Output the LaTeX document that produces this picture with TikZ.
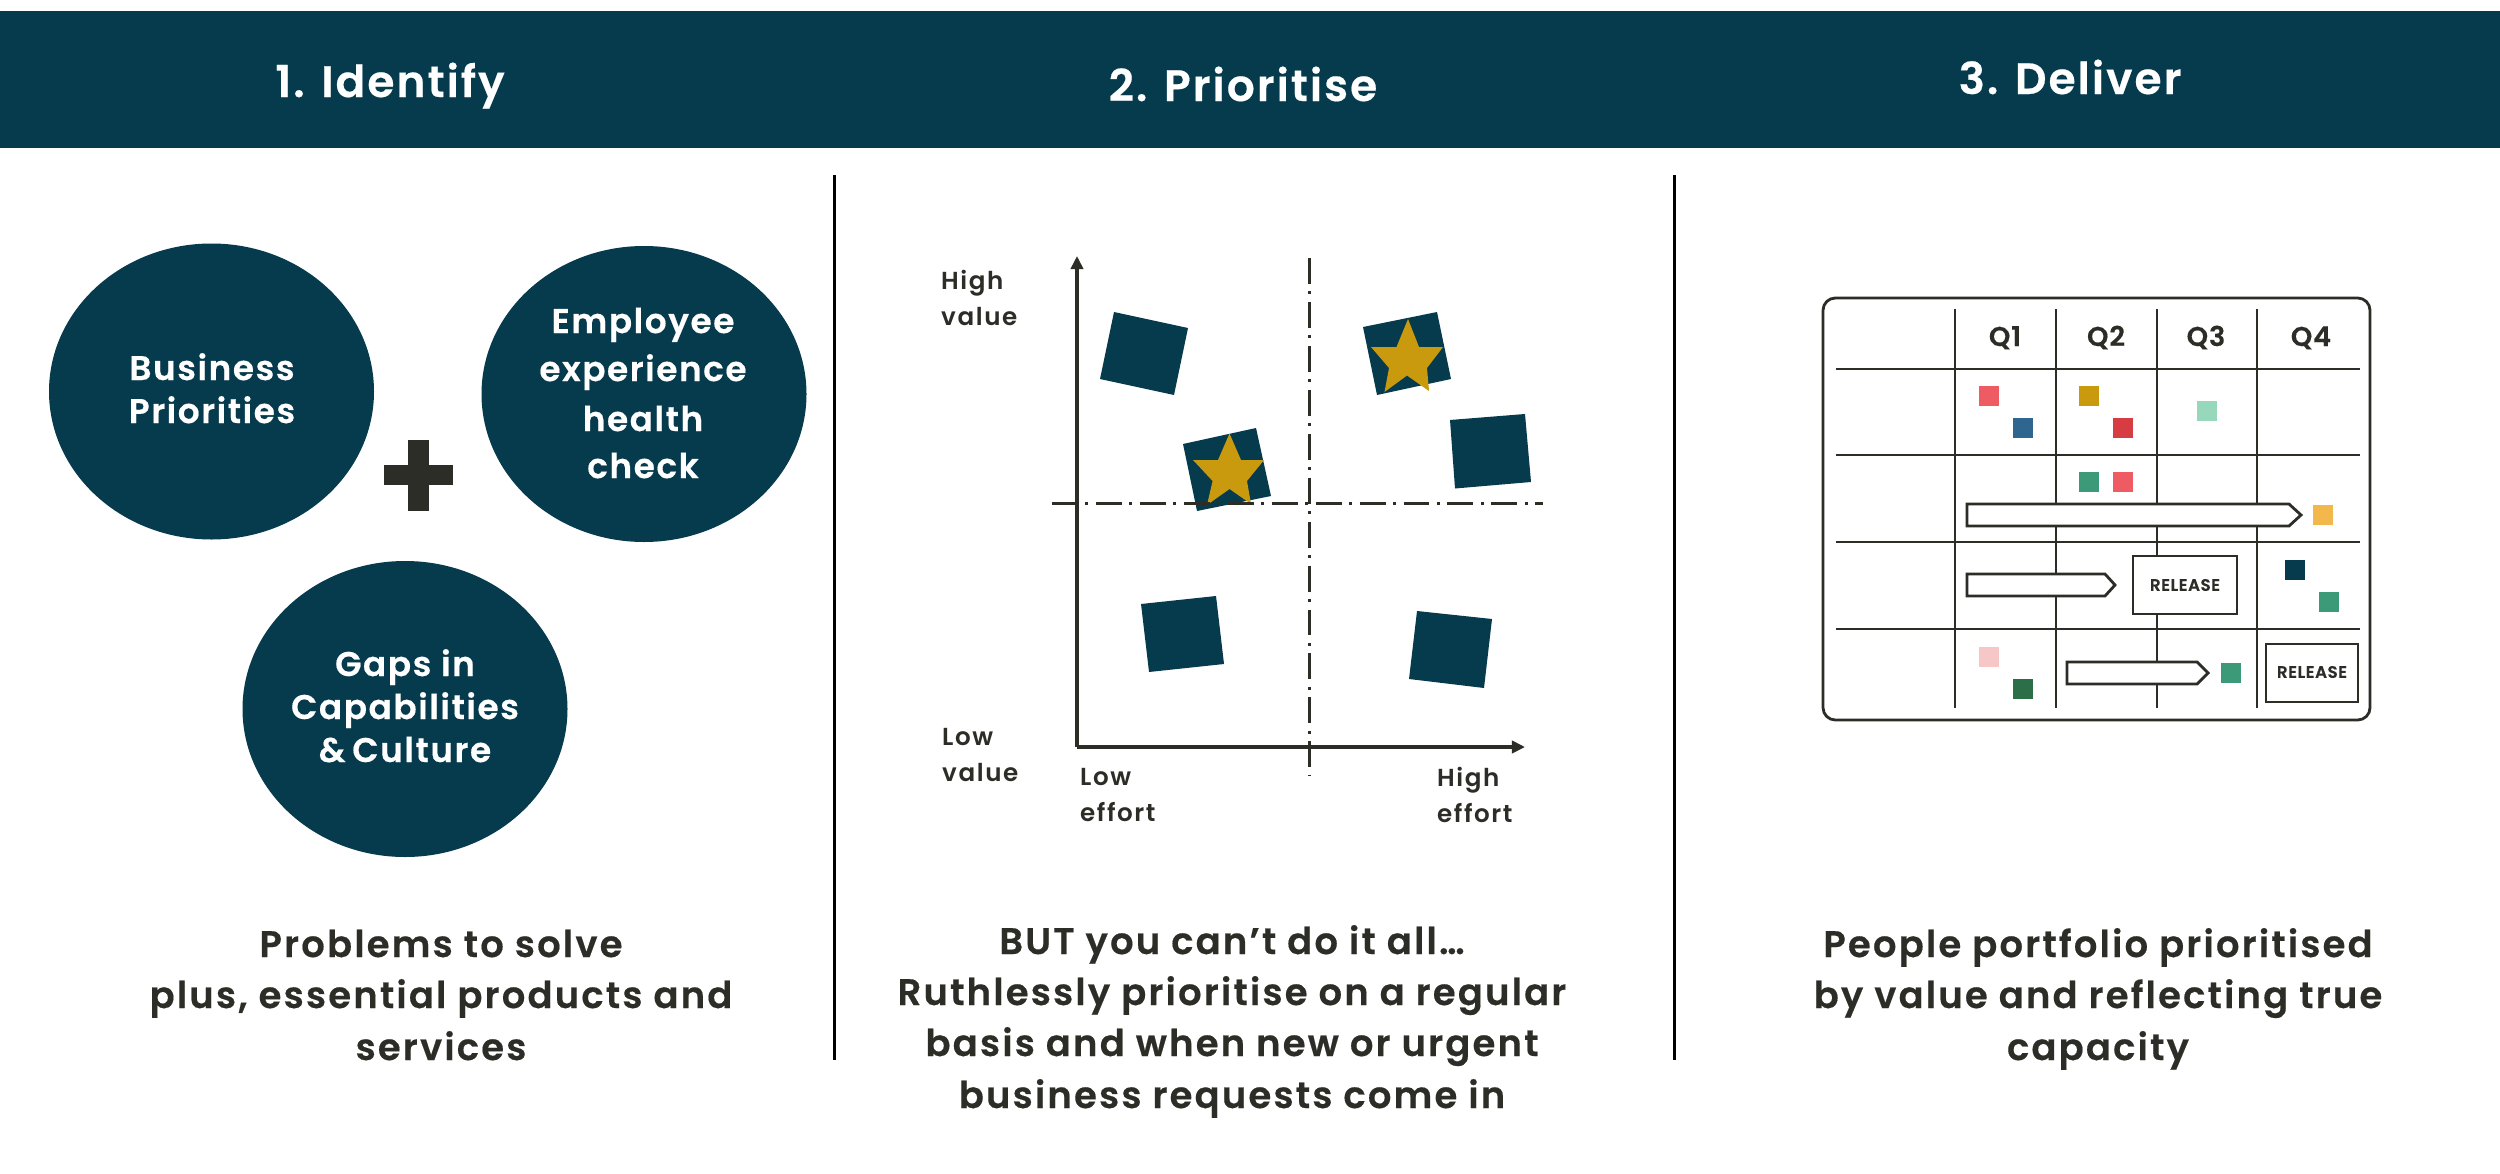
\documentclass[tikz,border=0pt]{standalone}
\usepackage{fontspec}
\setmainfont{Poppins}
\newfontfamily\headf{Poppins SemiBold}[LetterSpace=4.6,FakeBold=0.4]
\newfontfamily\circf{Poppins SemiBold}[LetterSpace=4.6,FakeBold=0.4]
\newfontfamily\bodyf{Poppins SemiBold}[LetterSpace=6,FakeBold=0.4]
\newfontfamily\axisf{Poppins SemiBold}[LetterSpace=6.5]
\newfontfamily\qf{Poppins SemiBold}[LetterSpace=3,FakeBold=0.4]
\usetikzlibrary{arrows.meta}
\definecolor{navy}{HTML}{063B4E}
\definecolor{ink}{HTML}{2D2D28}
\definecolor{gold}{HTML}{C9990E}
\definecolor{coral}{HTML}{EF5B62}
\definecolor{sblue}{HTML}{2F6690}
\definecolor{sred}{HTML}{D63C42}
\definecolor{mint}{HTML}{97D8BC}
\definecolor{sgreen}{HTML}{3D9A78}
\definecolor{syellow}{HTML}{F2B84B}
\definecolor{spink}{HTML}{F7C6C7}
\definecolor{dgreen}{HTML}{2B6E47}
\tikzset{
  x=0.04cm,y=-0.04cm,
  headtext/.style={anchor=base,text=white,inner sep=0pt,font=\headf\fontsize{50}{50}\selectfont},
  circtext/.style={anchor=base,text=white,inner sep=0pt,font=\circf\fontsize{39}{39}\selectfont},
  bodytext/.style={anchor=base,text=ink,inner sep=0pt,font=\bodyf\fontsize{42}{42}\selectfont},
  axistext/.style={anchor=base west,text=ink,inner sep=0pt,font=\axisf\fontsize{28}{28}\selectfont},
  qtext/.style={anchor=base,text=ink,inner sep=0pt,font=\qf\fontsize{31}{31}\selectfont},
  reltext/.style={anchor=center,text=ink,inner sep=0pt,font=\qf\fontsize{19}{19}\selectfont},
  tile/.style={fill=navy,draw=none},
  starfill/.style={fill=gold,draw=none},
  axisline/.style={draw=ink,line width=4.2pt,-{Triangle[length=15pt,width=14pt]}},
  dashline/.style={draw=ink,line width=3.4pt,dash pattern=on 29.5pt off 8.5pt on 3.5pt off 8.5pt},
  divider/.style={draw=black,line width=3.4pt},
  gridline/.style={draw=ink,line width=3.2pt},
  chip/.style={minimum size=22.8pt,inner sep=0pt,draw=none},
  bar/.style={draw=ink,fill=white,line width=3.2pt},
  relbox/.style={draw=ink,fill=white,line width=3.2pt},
}
\begin{document}
\begin{tikzpicture}
\useasboundingbox (0,0) rectangle (2500,1173);
\fill[white] (0,0) rectangle (2500,1173);
% header band
\fill[navy] (0,11) rectangle (2500,148);
\node[headtext] (h1) at (390,97) {1. Identify};
\node[headtext] (h2) at (1243,101) {2. Prioritise};
\node[headtext] (h3) at (2070,94) {3. Deliver};
% dividers
\coordinate (d1t) at (834,175); \coordinate (d1b) at (834,1060);
\coordinate (d2t) at (1674,175); \coordinate (d2b) at (1674,1060);
\draw[divider] (d1t) -- (d1b);
\draw[divider] (d2t) -- (d2b);
% circles
\fill[navy] (211.5,391.5) ellipse [x radius=162.5,y radius=148];
\fill[navy] (644,394) ellipse [x radius=162.5,y radius=148];
\fill[navy] (405,709) ellipse [x radius=162.5,y radius=148];
\node[circtext] (c1a) at (212,380) {Business};
\node[circtext] (c1b) at (212,423) {Priorities};
\node[circtext] (c2a) at (643,333) {Employee};
\node[circtext] (c2b) at (643,381) {experience};
\node[circtext] (c2c) at (643,431) {health};
\node[circtext] (c2d) at (643,478) {check};
\node[circtext] (c3a) at (405,676) {Gaps in};
\node[circtext] (c3b) at (405,719) {Capabilities};
\node[circtext] (c3c) at (405,762) {\&\hspace{.2em}Culture};
% plus
\fill[ink] (408,440) rectangle (429,511);
\fill[ink] (384,465) rectangle (453,485);
% bottom texts
\node[bodytext] (b1a) at (441,957) {Problems to solve};
\node[bodytext] (b1b) at (441,1008) {plus, essential products and};
\node[bodytext] (b1c) at (441,1060) {services};
\node[bodytext] (b2a) at (1232,954) {BUT you can’t do it all…};
\node[bodytext] (b2b) at (1232,1005) {Ruthlessly prioritise on a regular};
\node[bodytext] (b2c) at (1232,1056) {basis and when new or urgent};
\node[bodytext] (b2d) at (1232,1108) {business requests come in};
\node[bodytext] (b3a) at (2098,957) {People portfolio prioritised};
\node[bodytext] (b3b) at (2098,1008) {by value and reflecting true};
\node[bodytext] (b3c) at (2098,1060) {capacity};
% matrix tiles
\fill[tile] (1114,312) -- (1188,328) -- (1174,395) -- (1100,379) -- cycle;
\fill[tile] (1363,327) -- (1437,312) -- (1451,379) -- (1377,395) -- cycle;
\fill[tile] (1450,420) -- (1525,414) -- (1531,482) -- (1455,488.5) -- cycle;
\fill[tile] (1183,444) -- (1256,428) -- (1271,496) -- (1197,511) -- cycle;
\fill[tile] (1141,604) -- (1216,596) -- (1224,664) -- (1149,672) -- cycle;
\fill[tile] (1417,611) -- (1492,619) -- (1484,688) -- (1409,679) -- cycle;
% stars
\fill[starfill] (1408,319) -- (1419,347) -- (1443,347) -- (1427,368) -- (1429,391) -- (1407,375.5) -- (1384.5,392) -- (1389,368) -- (1371,347) -- (1396.5,347) -- cycle;
\fill[starfill] (1229.5,433.5) -- (1241,460) -- (1264,460) -- (1247,481) -- (1251,504) -- (1229.5,489) -- (1207,505) -- (1212.6,481) -- (1193,460) -- (1218,460) -- cycle;
% axes
\coordinate (orig) at (1077,747);
\coordinate (ytop) at (1077,256);
\coordinate (xend) at (1525,747);
\coordinate (vt) at (1309,258); \coordinate (vb) at (1309,776);
\coordinate (hl) at (1052,503); \coordinate (hr) at (1543,503);
\draw[dashline] (vt) -- (vb);
\draw[dashline] (hl) -- (hr);
\draw[axisline] (orig) -- (ytop);
\draw[axisline] (orig) -- (xend);
\node[axistext] (a1) at (941,289) {High};
\node[axistext] (a2) at (941,325) {value};
\node[axistext] (a3) at (942,745) {Low};
\node[axistext] (a4) at (942,781) {value};
\node[axistext] (a5) at (1080,785) {Low};
\node[axistext] (a6) at (1080,821) {effort};
\node[axistext] (a7) at (1437,786) {High};
\node[axistext] (a8) at (1437,822) {effort};
% roadmap
\draw[gridline,rounded corners=14pt] (1823,298) rectangle (2370,720);
\coordinate (g1t) at (1955,309); \coordinate (g1b) at (1955,708);
\coordinate (g2t) at (2056,309); \coordinate (g2b) at (2056,708);
\coordinate (g3t) at (2157,309); \coordinate (g3b) at (2157,708);
\coordinate (g4t) at (2257,309); \coordinate (g4b) at (2257,708);
\coordinate (r1l) at (1836,369); \coordinate (r1r) at (2360,369);
\coordinate (r2l) at (1836,455); \coordinate (r2r) at (2360,455);
\coordinate (r3l) at (1836,542); \coordinate (r3r) at (2360,542);
\coordinate (r4l) at (1836,629); \coordinate (r4r) at (2360,629);
\foreach \n in {1,2,3,4} {\draw[gridline] (g\n t) -- (g\n b); \draw[gridline] (r\n l) -- (r\n r);}
\node[qtext] (q1) at (2005,346) {Q1};
\node[qtext] (q2) at (2106,346) {Q2};
\node[qtext] (q3) at (2206,346) {Q3};
\node[qtext] (q4) at (2311,346) {Q4};
\node[chip,fill=coral] (s1) at (1989,396) {};
\node[chip,fill=sblue] (s2) at (2023,428) {};
\node[chip,fill=gold] (s3) at (2089,396) {};
\node[chip,fill=sred] (s4) at (2123,428) {};
\node[chip,fill=mint] (s5) at (2207,411) {};
\node[chip,fill=sgreen] (s6) at (2089,482) {};
\node[chip,fill=coral] (s7) at (2123,482) {};
\node[chip,fill=syellow] (s8) at (2323,515) {};
\node[chip,fill=navy] (s9) at (2295,570) {};
\node[chip,fill=sgreen] (s10) at (2329,602) {};
\node[chip,fill=spink] (s11) at (1989,657) {};
\node[chip,fill=dgreen] (s12) at (2023,689) {};
\node[chip,fill=sgreen] (s13) at (2230.5,673) {};
\draw[bar] (1967,504) -- (2289,504) -- (2301,515) -- (2289,526) -- (1967,526) -- cycle;
\draw[bar] (1967,574) -- (2105,574) -- (2115,585) -- (2105,596) -- (1967,596) -- cycle;
\draw[bar] (2067,662) -- (2197,662) -- (2208,673) -- (2197,684) -- (2067,684) -- cycle;
\draw[relbox] (2133,556) rectangle (2237,614);
\draw[relbox] (2266,644) rectangle (2358,702);
\node[reltext] (rel1) at (2185,585) {RELEASE};
\node[reltext] (rel2) at (2312,672) {RELEASE};
\end{tikzpicture}
\end{document}
